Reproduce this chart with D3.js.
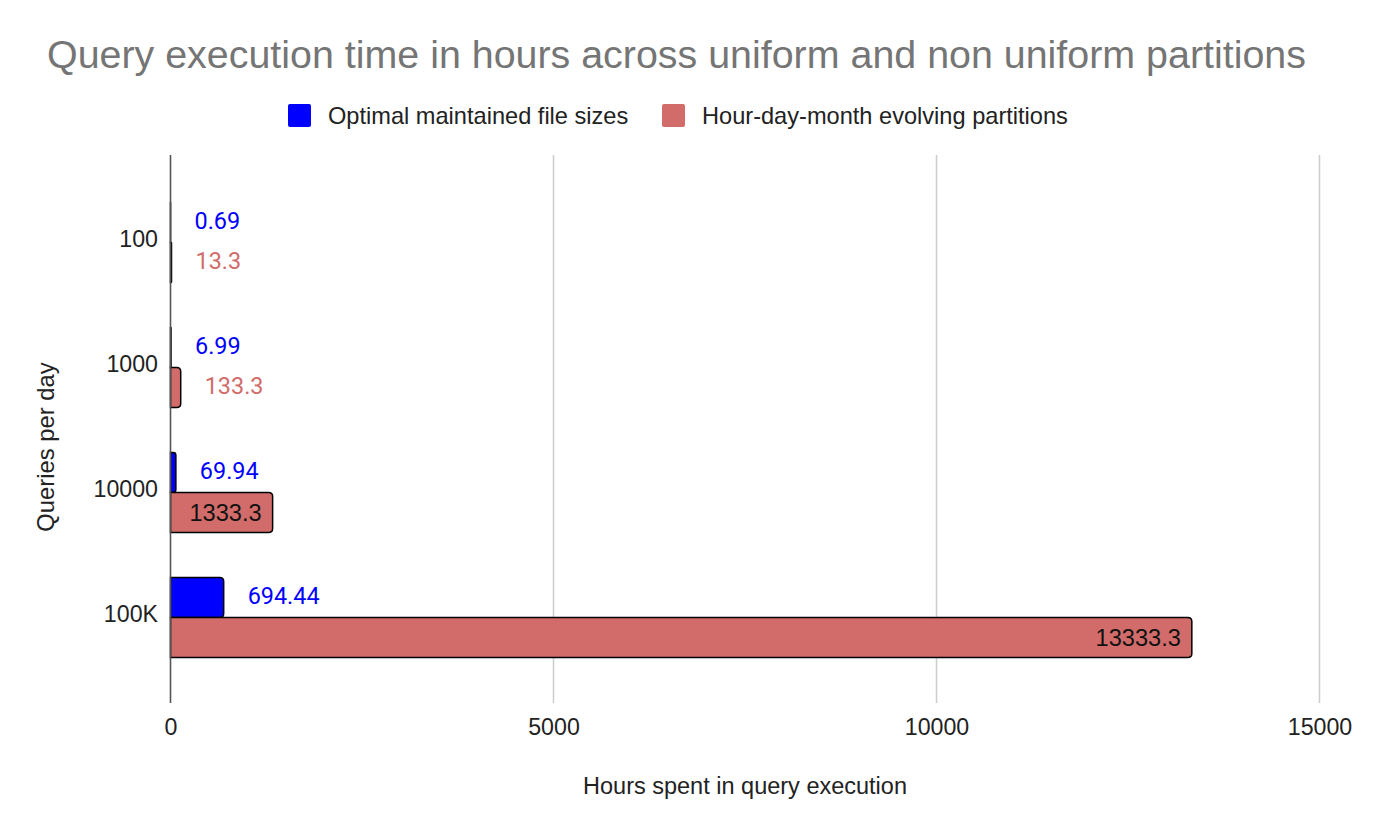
<!DOCTYPE html>
<html>
<head>
<meta charset="utf-8">
<script src="https://cdn.jsdelivr.net/npm/d3@7"></script>
<style>
  body { margin: 0; background: #fff; }
</style>
</head>
<body>
<div id="chart"></div>
<script>
// data
var categories = ["100", "1000", "10000", "100K"];
var seriesNames = ["Optimal maintained file sizes", "Hour-day-month evolving partitions"];
var optimalHours = [0.69, 6.99, 69.94, 694.44];
var evolvingHours = [13.3, 133.3, 1333.3, 13333.3];
var xTicks = [0, 5000, 10000, 15000];

var colors = ["#0000ff", "#d16c6a"];
var width = 1388, height = 826;
var plot = { left: 170.5, right: 1319.5, top: 155, bottom: 705 };
var font = "Liberation Sans, Arial, sans-serif";

var svg = d3.select("#chart")
  .append("svg")
  .attr("width", width)
  .attr("height", height);

// scales
var x = d3.scaleLinear().domain([0, 15000]).range([plot.left, plot.right]);
var y = d3.scaleBand().domain(categories).range([plot.top, plot.bottom])
  .paddingInner(0).paddingOuter(0.2);
var ySub = d3.scaleBand().domain([0, 1]).range([0, y.bandwidth()])
  .paddingInner(0).paddingOuter(0.5625);

// title
svg.append("text")
  .attr("x", 47)
  .attr("y", 68)
  .attr("font-family", font)
  .attr("font-size", 39.4)
  .attr("fill", "#757575")
  .text("Query execution time in hours across uniform and non uniform partitions");

// legend
var legendX = [288, 662];
var legend = svg.append("g").selectAll("g")
  .data(seriesNames)
  .enter()
  .append("g")
  .attr("transform", function(d, i) { return "translate(" + legendX[i] + ",104)"; });
legend.append("rect")
  .attr("width", 23)
  .attr("height", 23)
  .attr("rx", 2)
  .attr("fill", function(d, i) { return colors[i]; });
legend.append("text")
  .attr("x", 40)
  .attr("y", 19.5)
  .attr("font-family", font)
  .attr("font-size", 23.6)
  .attr("fill", "#222")
  .text(function(d) { return d; });

// gridlines
svg.append("g")
  .selectAll("line")
  .data(xTicks.slice(1))
  .enter()
  .append("line")
  .attr("x1", function(d) { return x(d); })
  .attr("x2", function(d) { return x(d); })
  .attr("y1", plot.top)
  .attr("y2", plot.bottom - 2)
  .attr("stroke", "#cccccc")
  .attr("stroke-width", 1.5);

// x axis labels
var xAxis = svg.append("g")
  .attr("transform", "translate(0,735)")
  .call(d3.axisBottom(x).tickValues(xTicks).tickSize(0).tickPadding(0).tickFormat(d3.format("d")));
xAxis.select(".domain").remove();
xAxis.selectAll("text")
  .attr("dy", 0)
  .attr("font-family", font)
  .attr("font-size", 23.2)
  .attr("fill", "#222");

// y axis labels
var yAxis = svg.append("g")
  .attr("transform", "translate(158,-2.5)")
  .call(d3.axisLeft(y).tickSize(0).tickPadding(0));
yAxis.select(".domain").remove();
yAxis.selectAll("text")
  .attr("font-family", font)
  .attr("font-size", 23.2)
  .attr("fill", "#222");

// axis titles
svg.append("text")
  .attr("x", 745)
  .attr("y", 794)
  .attr("text-anchor", "middle")
  .attr("font-family", font)
  .attr("font-size", 23.5)
  .attr("fill", "#222")
  .text("Hours spent in query execution");

svg.append("text")
  .attr("transform", "translate(54,447) rotate(-90)")
  .attr("text-anchor", "middle")
  .attr("font-family", font)
  .attr("font-size", 23.8)
  .attr("fill", "#222")
  .text("Queries per day");

// bar with rounded right end
function barPath(x0, y0, w, h, r) {
  r = Math.min(r, w / 2, h / 2);
  return "M" + x0 + "," + y0 +
    "H" + (x0 + w - r) +
    "Q" + (x0 + w) + "," + y0 + " " + (x0 + w) + "," + (y0 + r) +
    "V" + (y0 + h - r) +
    "Q" + (x0 + w) + "," + (y0 + h) + " " + (x0 + w - r) + "," + (y0 + h) +
    "H" + x0 + "Z";
}

var rows = categories.map(function(c, i) {
  return { cat: c, values: [optimalHours[i], evolvingHours[i]] };
});

var groups = svg.append("g").selectAll("g")
  .data(rows)
  .enter()
  .append("g")
  .attr("transform", function(d) { return "translate(0," + y(d.cat) + ")"; });

groups.selectAll("path")
  .data(function(d) { return d.values; })
  .enter()
  .append("path")
  .attr("d", function(d, i) {
    return barPath(x(0), ySub(i), x(d) - x(0), ySub.bandwidth(), 4);
  })
  .attr("fill", function(d, i) { return colors[i]; })
  .attr("stroke", "#000")
  .attr("stroke-width", 1.5);

// zero axis line, over the bar edges
svg.append("line")
  .attr("x1", x(0))
  .attr("x2", x(0))
  .attr("y1", plot.top)
  .attr("y2", plot.bottom - 2)
  .attr("stroke", "#555")
  .attr("stroke-width", 1.6);

// value labels: inside the bar when they fit, outside otherwise
groups.each(function(row) {
  var g = d3.select(this);
  row.values.forEach(function(v, i) {
    var cy = ySub(i) + ySub.bandwidth() / 2;
    var barW = x(v) - x(0);
    var t = g.append("text")
      .attr("dy", "0.35em")
      .attr("font-family", font)
      .attr("font-size", 23.6)
      .text(d3.format("")(v));
    var tw = t.node().getComputedTextLength();
    if (tw + 24 < barW) {
      t.attr("x", x(v) - 11)
        .attr("y", cy)
        .attr("text-anchor", "end")
        .attr("fill", "#111");
    } else {
      t.attr("x", x(v) + 24)
        .attr("y", cy - 2)
        .attr("font-family", "Roboto, Noto Sans, sans-serif")
        .attr("font-size", 23.4)
        .attr("fill", colors[i]);
    }
  });
});
</script>
</body>
</html>
